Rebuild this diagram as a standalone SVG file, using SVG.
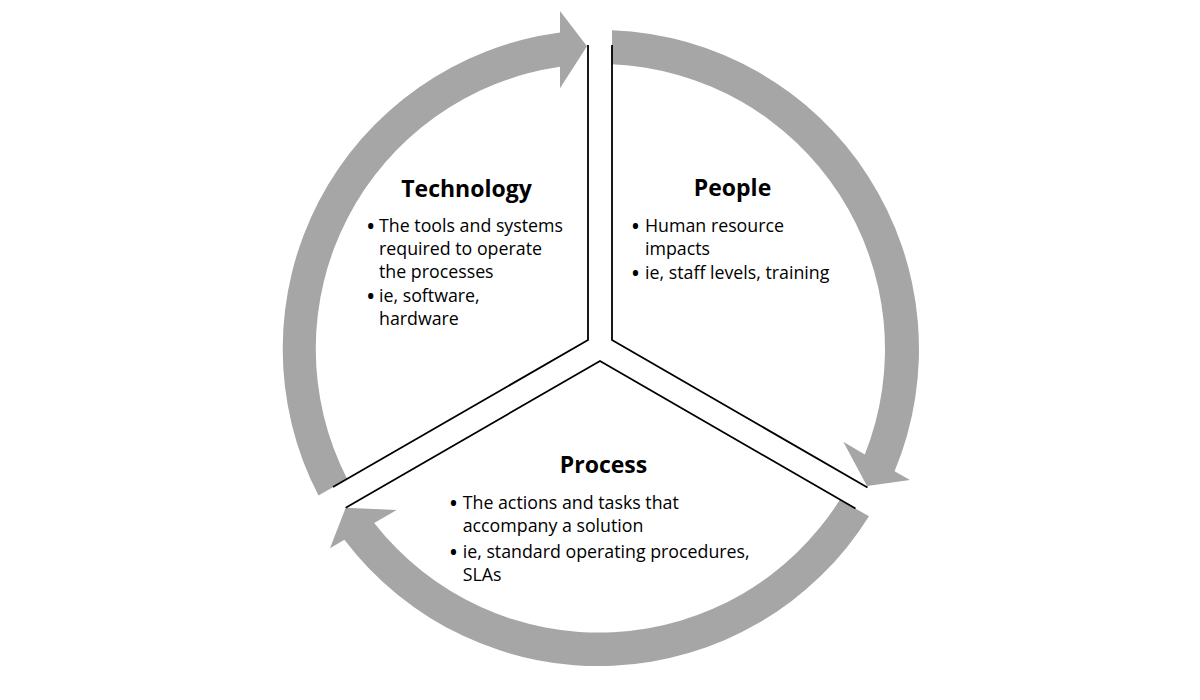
<svg xmlns="http://www.w3.org/2000/svg" width="1200" height="700" viewBox="0 0 1200 700">
<style>
.arrow{fill:#A6A6A6;stroke:none}
.div{fill:none;stroke:#000;stroke-width:1.8;stroke-linejoin:miter}
.title{font-family:"Open Sans","Liberation Sans",sans-serif;font-weight:bold;font-size:23px;fill:#000;text-anchor:middle}
.body{font-family:"Open Sans","Liberation Sans",sans-serif;font-size:17.8px;fill:#000}
.bul{font-family:"Open Sans","Liberation Sans",sans-serif;font-size:25px;fill:#000;text-anchor:middle}
</style>
<rect width="1200" height="700" fill="#fff"/>
<g id="connectors">
<path id="arrow-tech-to-people" class="arrow" d="M318.5,495.6 A319,319 0 0 1 560,32.5 L560,11 L587,46.3 L560,88.3 L560,66.8 A285,285 0 0 0 347.2,479 Z"/>
<path id="arrow-people-to-process" class="arrow" d="M612,30.2 A319,319 0 0 1 894.6,471.3 L910,480 L867,486 L843.3,441.7 L864.8,454.4 A285,285 0 0 0 612,64.3 Z"/>
<path id="arrow-process-to-tech" class="arrow" d="M869,516.3 A319,319 0 0 1 344.4,539.8 L330,548.3 L345.7,507.7 L396.7,510 L374.2,522.9 A285,285 0 0 0 840,499.6 Z"/>
</g>
<g id="technology">
<polyline class="div" points="588,45 588,340 333,487"/>
<text class="title" x="466.5" y="196.5">Technology</text>
<text class="bul" x="370.8" y="235">•</text>
<text class="body" x="379" y="232">The tools and systems</text>
<text class="body" x="379" y="255">required to operate</text>
<text class="body" x="379" y="278">the processes</text>
<text class="bul" x="370.8" y="305">•</text>
<text class="body" x="379" y="302">ie, software,</text>
<text class="body" x="379" y="325">hardware</text>
</g>
<g id="people">
<polyline class="div" points="612,45 612,340 867.5,487.5"/>
<text class="title" x="732.5" y="196">People</text>
<text class="bul" x="635.5" y="235">•</text>
<text class="body" x="645" y="232">Human resource</text>
<text class="body" x="645" y="255">impacts</text>
<text class="bul" x="635.5" y="282">•</text>
<text class="body" x="645" y="279">ie, staff levels, training</text>
</g>
<g id="process">
<polyline class="div" points="345.7,507.7 600,361 855.5,508.5"/>
<text class="title" x="603.5" y="472.5">Process</text>
<text class="bul" x="453.5" y="511.5">•</text>
<text class="body" x="462.7" y="508.5">The actions and tasks that</text>
<text class="body" x="462.7" y="531.5">accompany a solution</text>
<text class="bul" x="453.5" y="561">•</text>
<text class="body" x="462.7" y="558">ie, standard operating procedures,</text>
<text class="body" x="462.7" y="581">SLAs</text>
</g>
</svg>
